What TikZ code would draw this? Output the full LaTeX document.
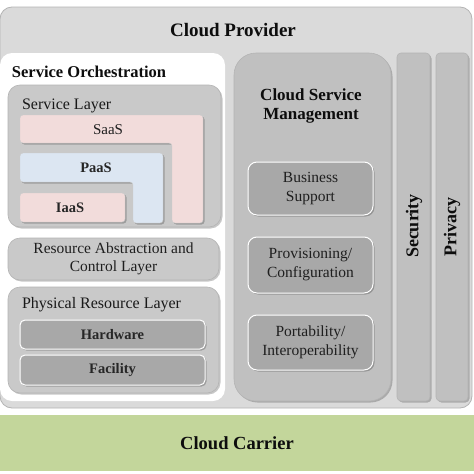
\documentclass[tikz,border=0pt]{standalone}
\usepackage{fontspec}
\setmainfont{Liberation Serif}
\usetikzlibrary{shadows}
\begin{document}
\begin{tikzpicture}[x=1pt,y=-1pt,
  every node/.style={inner sep=0pt,outer sep=0pt},
  panel/.style={rectangle,rounded corners=#1,minimum width=10pt},
  softshadow/.style={drop shadow={shadow xshift=1.5pt,shadow yshift=-1.5pt,fill=black,opacity=0.22}},
  provider/.style={panel=12pt,fill=provgray,draw=edgegray,line width=0.8pt},
  orch/.style={panel=12pt,fill=white},
  layer/.style={panel=12pt,fill=layergray,draw=edgegray,line width=0.6pt,softshadow},
  inner/.style={panel=5pt,fill=innergray,draw=white,line width=1pt,softshadow},
  bar/.style={panel=4pt,fill=bargray,draw=edgegray,line width=0.6pt,softshadow},
  titletext/.style={font=\bfseries\fontsize{19}{21}\selectfont,text=black!95},
  labeltext/.style={font=\fontsize{16}{18}\selectfont,text=black!90},
  boxtext/.style={font=\fontsize{15.5}{19}\selectfont,align=center,text=black!88},
  boldboxtext/.style={font=\bfseries\fontsize{14.5}{19}\selectfont,align=center,text=black!85}
]
\definecolor{provgray}{HTML}{DADADA}
\definecolor{edgegray}{HTML}{B4B4B4}
\definecolor{layergray}{HTML}{C9C9C9}
\definecolor{innergray}{HTML}{A8A8A8}
\definecolor{bargray}{HTML}{C0C0C0}
\definecolor{pinkfill}{HTML}{F2DCDB}
\definecolor{bluefill}{HTML}{DCE6F2}
\definecolor{greenfill}{HTML}{C3D69B}
\useasboundingbox (0,0) rectangle (474,474);
\fill[white] (0,0) rectangle (474,474);

% Cloud provider
\node[provider,minimum width=472pt,minimum height=401pt] (provider) at (236,207.5) {};
\node[titletext] (providerlabel) at (233,30) {Cloud Provider};

% Service orchestration
\node[orch,minimum width=225pt,minimum height=348pt] (orch) at (112.5,227) {};
\node[titletext,font=\bfseries\fontsize{16.5}{18}\selectfont,anchor=west] (orchlabel) at (12,72) {Service Orchestration};

% Service layer
\node[layer,minimum width=213pt,minimum height=142pt] (slayer) at (114.5,156) {};
\node[labeltext,anchor=west] (slayerlabel) at (22,106) {Service Layer};

% SaaS / PaaS / IaaS
\fill[pinkfill,draw=edgegray!70,line width=0.4pt,rounded corners=3pt,softshadow]
  (20,115) -- (203,115) -- (203,223) -- (172,223) -- (172,143) -- (20,143) -- cycle;
\node[boxtext,font=\fontsize{15}{19}\selectfont] (saas) at (108,130) {SaaS};
\fill[bluefill,draw=edgegray!70,line width=0.4pt,rounded corners=3pt,softshadow]
  (20,153) -- (163,153) -- (163,223) -- (133,223) -- (133,182) -- (20,182) -- cycle;
\node[boldboxtext] (paas) at (96,168) {PaaS};
\node[panel=3pt,fill=pinkfill,draw=edgegray!70,line width=0.4pt,softshadow,minimum width=105pt,minimum height=29pt] (iaasbox) at (72.5,207.5) {};
\node[boldboxtext] (iaas) at (70,208) {IaaS};

% Resource abstraction
\node[layer,minimum width=211pt,minimum height=42pt,boxtext,font=\fontsize{15.5}{18}\selectfont] (rac) at (113.5,259) {Resource Abstraction and\\Control Layer};

% Physical resource layer
\node[layer,minimum width=211pt,minimum height=106pt] (phys) at (113.5,340) {};
\node[labeltext,anchor=west] (physlabel) at (22,305) {Physical Resource Layer};
\node[inner,minimum width=185pt,minimum height=29pt,boldboxtext] (hardware) at (112.5,334.5) {Hardware};
\node[inner,minimum width=185pt,minimum height=30pt,boldboxtext] (facility) at (112.5,370) {Facility};

% Cloud service management
\node[bar,rounded corners=22pt,minimum width=157pt,minimum height=348pt] (csm) at (312.5,227) {};
\node[titletext,font=\bfseries\fontsize{17}{19}\selectfont,align=center] (csmlabel) at (311,106) {Cloud Service\\Management};
\node[inner,rounded corners=9pt,minimum width=125pt,minimum height=53pt,boxtext] (business) at (310.5,188.5) {Business\\Support};
\node[inner,rounded corners=9pt,minimum width=125pt,minimum height=56pt,boxtext] (prov) at (310.5,265) {Provisioning/\\Configuration};
\node[inner,rounded corners=9pt,minimum width=125pt,minimum height=55pt,boxtext] (port) at (310.5,342.5) {Portability/\\Interoperability};

% Security & Privacy
\node[bar,minimum width=33pt,minimum height=348pt] (security) at (413.5,227) {};
\node[titletext,font=\bfseries\fontsize{18}{20}\selectfont,rotate=90] (securitylabel) at (414,226) {Security};
\node[bar,minimum width=32pt,minimum height=348pt] (privacy) at (452,227) {};
\node[titletext,font=\bfseries\fontsize{18}{20}\selectfont,rotate=90] (privacylabel) at (452,227) {Privacy};

% Cloud carrier
\node[rectangle,fill=greenfill,minimum width=474pt,minimum height=56pt] (carrier) at (237,443) {};
\node[titletext,font=\bfseries\fontsize{18.5}{20}\selectfont] (carrierlabel) at (237,443) {Cloud Carrier};
\end{tikzpicture}
\end{document}
